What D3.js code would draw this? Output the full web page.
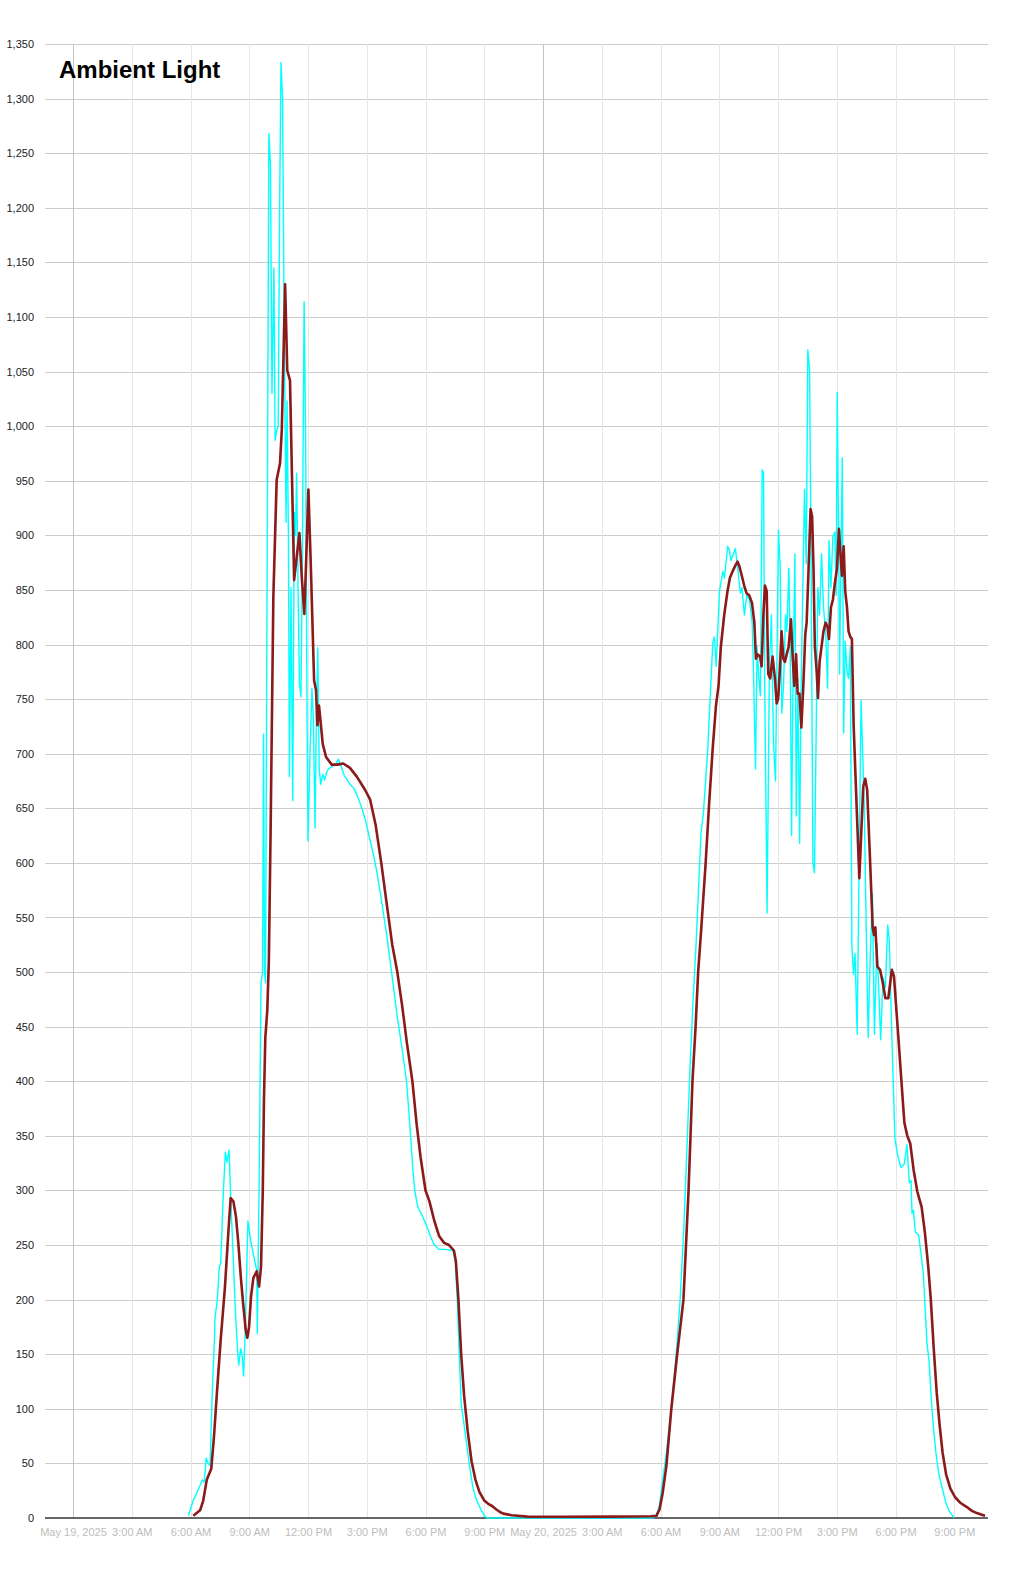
<!DOCTYPE html>
<html><head><meta charset="utf-8">
<script src="https://cdn.jsdelivr.net/npm/d3@7"></script>
<style>
body{margin:0;background:#fff}
svg{display:block}
text{font-family:Arial,"Liberation Sans",sans-serif}
</style>
</head><body>
<svg id="chart" width="1022" height="1585"></svg>
<script>
// ---------- DATA ----------
const chartTitle = "Ambient Light";
// hours after May 19, 2025 00:00
const domainHours = [-1.43, 46.72];
const yTickValues = [0,50,100,150,200,250,300,350,400,450,500,550,600,650,700,750,800,850,900,950,1000,1050,1100,1150,1200,1250,1300,1350];
const xTickHours = [0,3,6,9,12,15,18,21,24,27,30,33,36,39,42,45];
const xTickLabels = ["May 19, 2025","3:00 AM","6:00 AM","9:00 AM","12:00 PM","3:00 PM","6:00 PM","9:00 PM",
                     "May 20, 2025","3:00 AM","6:00 AM","9:00 AM","12:00 PM","3:00 PM","6:00 PM","9:00 PM"];

// raw sensor reading (cyan)
const rawTimes = [
 5.89,6.14,6.32,6.49,6.6,6.7,6.8,6.9,7.0,7.1,7.22,7.25,7.37,7.47,7.54,7.68,7.78,7.86,7.97,8.05,
 8.16,8.28,8.38,8.46,8.56,8.63,8.71,8.8,8.93,9.09,9.24,9.38,9.41,9.5,9.6,9.68,9.73,9.78,9.83,9.92,
 10.0,10.08,10.16,10.26,10.32,10.4,10.48,10.55,10.62,10.7,10.78,10.88,10.93,11.0,11.05,11.13,11.22,11.3,11.36,11.42,
 11.49,11.56,11.64,11.72,11.8,11.88,11.94,12.0,12.1,12.2,12.27,12.36,12.43,12.5,12.57,12.65,12.75,12.85,12.95,13.04,
 13.2,13.4,13.55,13.7,13.85,14.0,14.15,14.35,14.55,14.75,14.95,15.15,15.35,15.55,15.8,16.05,16.3,16.55,16.8,17.03,
 17.2,17.35,17.45,17.6,17.8,18.05,18.25,18.45,18.7,19.0,19.4,19.52,19.62,19.72,19.82,19.97,20.12,20.27,20.42,20.57,
 20.8,21.0,21.14,24.0,27.0,29.6,
 29.8,29.95,30.11,30.3,30.55,30.8,31.0,31.2,31.35,31.5,31.65,31.81,31.95,32.07,32.19,32.41,32.58,32.67,32.75,32.84,
 33.01,33.18,33.26,33.43,33.52,33.6,33.82,33.94,34.08,34.16,34.28,34.4,34.54,34.68,34.74,34.85,34.93,35.02,35.1,35.19,
 35.26,35.32,35.44,35.56,35.66,35.77,35.87,35.94,36.02,36.11,36.19,36.28,36.38,36.45,36.55,36.62,36.69,36.76,36.86,36.93,
 37.01,37.1,37.18,37.35,37.44,37.52,37.61,37.69,37.78,37.86,37.95,38.03,38.12,38.22,38.32,38.43,38.53,38.6,38.7,38.8,
 38.9,38.97,39.02,39.09,39.14,39.28,39.35,39.43,39.52,39.6,39.69,39.77,39.85,39.93,40.04,40.14,40.24,40.4,40.5,40.6,
 40.7,40.82,40.92,41.05,41.15,41.24,41.36,41.48,41.6,41.68,41.78,41.87,41.97,42.1,42.27,42.44,42.58,42.7,42.79,42.84,
 42.91,43.01,43.18,43.3,43.42,43.52,43.6,43.72,43.81,43.93,44.06,44.2,44.32,44.46,44.58,44.75,45.0
];
const rawValues = [
 2,16,23,30,35,33,55,50,48,110,163,183,200,230,233,300,335,326,337,294,
 248,194,160,140,155,150,130,175,272,252,239,227,169,300,490,500,718,500,490,900,
 1268,1240,1030,1145,987,996,1000,1200,1333,1300,1100,912,1023,900,679,852,657,921,900,957,
 854,765,752,900,1114,987,765,620,700,760,734,632,740,797,686,672,681,676,683,686,
 688,690,695,688,680,676,672,668,660,650,638,622,607,588,560,530,495,460,430,400,
 360,320,300,285,278,268,258,250,246,246,245,235,200,150,105,85,65,45,28,18,
 9,2,0,0,0,0,
 3,12,35,60,100,150,200,270,340,410,470,524,580,628,646,704,769,802,807,780,
 849,867,861,890,886,877,888,870,847,852,827,845,841,820,780,686,798,769,753,960,
 957,762,554,780,827,708,675,780,905,870,737,762,827,812,870,798,625,762,883,643,
 769,618,762,942,874,1070,1051,870,600,591,726,852,827,883,834,812,760,895,852,899,
 903,845,1031,906,773,971,719,803,776,769,798,524,498,517,443,600,749,653,543,440,
 509,572,443,526,480,438,495,486,543,529,462,405,347,333,321,324,342,307,309,279,
 282,262,259,242,223,189,161,142,113,84,60,41,32,22,13,6,0
];

// smoothed average (dark red)
const avgTimes = [
 6.14,6.49,6.65,6.83,7.06,7.2,7.35,7.54,7.76,7.93,8.05,8.19,8.32,8.44,8.58,8.7,8.82,8.9,8.99,9.09,
 9.21,9.38,9.5,9.6,9.69,9.75,9.82,9.92,10.0,10.09,10.23,10.4,10.57,10.66,10.83,10.94,11.08,11.29,11.42,11.56,
 11.68,11.81,11.9,12.02,12.14,12.31,12.41,12.48,12.56,12.65,12.75,12.92,13.21,13.5,13.8,14.14,14.49,14.91,15.17,15.45,
 15.74,16.0,16.3,16.56,16.8,17.05,17.33,17.55,17.75,18.0,18.2,18.45,18.7,18.95,19.2,19.45,19.55,19.68,19.82,19.97,
 20.15,20.35,20.55,20.75,21.0,21.2,21.4,21.6,21.8,21.97,22.4,22.72,23.2,25.0,27.5,29.5,
 29.79,29.95,30.1,30.3,30.55,30.85,31.17,31.3,31.43,31.63,31.79,31.92,32.08,32.18,32.3,32.48,32.66,32.83,32.96,33.08,
 33.25,33.42,33.54,33.68,33.81,33.93,34.02,34.15,34.27,34.39,34.53,34.67,34.79,34.87,34.96,35.08,35.16,35.25,35.33,35.42,
 35.5,35.6,35.72,35.84,35.93,36.01,36.1,36.18,36.27,36.35,36.44,36.54,36.66,36.75,36.83,36.92,37.0,37.09,37.19,37.29,
 37.39,37.46,37.56,37.66,37.74,37.81,37.88,37.97,38.04,38.12,38.22,38.32,38.43,38.53,38.6,38.7,38.8,38.9,39.01,39.11,
 39.18,39.26,39.35,39.43,39.52,39.6,39.69,39.77,39.86,39.95,40.15,40.35,40.45,40.55,40.69,40.83,40.9,40.97,41.07,41.21,
 41.35,41.48,41.63,41.81,41.92,42.14,42.3,42.45,42.6,42.75,42.92,43.11,43.33,43.5,43.67,43.8,43.95,44.1,44.25,44.4,
 44.58,44.8,45.04,45.3,45.64,45.9,46.15,46.4,46.57
];
const avgValues = [
 2,7,16,35,45,75,115,163,212,261,293,290,276,252,218,194,172,165,175,203,
 220,226,212,230,300,383,440,465,510,630,844,951,966,996,1130,1051,1042,859,880,902,
 862,828,874,942,874,767,758,726,744,728,709,697,690,690,691,687,679,667,658,635,
 600,565,525,500,470,435,400,360,330,300,290,272,258,252,250,245,235,200,150,112,
 80,52,35,24,16,13,11,8,5.5,4,2.5,2,1.3,1.2,1.3,1.6,
 2,8,22,48,100,150,200,250,300,400,450,500,540,567,599,654,704,744,762,798,
 827,849,861,867,872,876,872,863,854,847,845,838,820,787,791,789,780,827,854,849,
 773,769,789,769,746,751,780,812,787,784,791,798,823,787,762,791,755,755,724,762,
 809,820,870,924,917,870,798,776,751,784,798,812,820,816,805,834,841,856,870,906,
 885,863,890,849,834,812,807,805,726,682,586,670,677,667,606,541,534,541,505,502,
 490,476,476,502,496,441,400,362,350,343,319,299,285,261,230,200,155,115,85,60,
 40,27,19,14,10,6.5,4.5,3,2
];

// ---------- CHART ----------
const baseDate = new Date(2025, 4, 19, 0, 0, 0);
const toDate = h => new Date(baseDate.getTime() + h * 3600000);

const W = 1022, H = 1585;
const plot = {left: 45, right: 988, top: 44, bottom: 1518};
const svg = d3.select("#chart");
svg.append("rect").attr("width", W).attr("height", H).attr("fill", "#fff");

const x = d3.scaleTime().domain(domainHours.map(toDate)).range([plot.left, plot.right]);
const y = d3.scaleLinear().domain([0, 1350]).range([plot.bottom, plot.top]);

// horizontal gridlines
svg.append("g").selectAll("line").data(yTickValues.filter(v => v !== 0)).join("line")
  .attr("x1", plot.left).attr("x2", plot.right)
  .attr("y1", d => Math.round(y(d)) + 0.5).attr("y2", d => Math.round(y(d)) + 0.5)
  .attr("stroke", "#cccccc").attr("stroke-width", 1);

// vertical gridlines
svg.append("g").selectAll("line").data(xTickHours).join("line")
  .attr("x1", d => Math.round(x(toDate(d))) + 0.5).attr("x2", d => Math.round(x(toDate(d))) + 0.5)
  .attr("y1", plot.top).attr("y2", plot.bottom)
  .attr("stroke", d => d % 24 === 0 ? "#c4c4c4" : "#e6e6e6").attr("stroke-width", 1);

// y axis labels
const yAxis = d3.axisLeft(y).tickValues(yTickValues).tickFormat(d3.format(",")).tickSize(0).tickPadding(11);
const gy = svg.append("g").attr("transform", `translate(${plot.left},0)`).call(yAxis);
gy.select(".domain").remove();
gy.selectAll("text").attr("fill", "#222").style("font-size", "11px").style("font-family", "Arial, 'Liberation Sans', sans-serif");

// x axis labels
const xAxis = d3.axisBottom(x).tickValues(xTickHours.map(toDate))
  .tickFormat((d, i) => xTickLabels[i]).tickSize(0).tickPadding(10);
const gx = svg.append("g").attr("transform", `translate(0,${plot.bottom})`).call(xAxis);
gx.select(".domain").remove();
gx.selectAll("text").attr("fill", "#bdbdbd").style("font-size", "11px").style("font-family", "Arial, 'Liberation Sans', sans-serif");

// baseline
svg.append("line").attr("x1", plot.left).attr("x2", plot.right)
  .attr("y1", y(0)).attr("y2", y(0)).attr("stroke", "#333").attr("stroke-width", 1.3);

// series
const rawData = rawTimes.map((t, i) => ({t: toDate(t), v: rawValues[i]}));
const avgData = avgTimes.map((t, i) => ({t: toDate(t), v: avgValues[i]}));
const line = d3.line().x(d => x(d.t)).y(d => y(d.v));

svg.append("path").datum(rawData).attr("d", line)
  .attr("fill", "none").attr("stroke", "#00ffff").attr("stroke-width", 1.4).attr("stroke-linejoin", "round");
svg.append("path").datum(avgData).attr("d", line)
  .attr("fill", "none").attr("stroke", "#8b1a1a").attr("stroke-width", 2.6).attr("stroke-linejoin", "round");

// title
svg.append("text").attr("x", 59).attr("y", 78).text(chartTitle)
  .attr("fill", "#000").style("font-size", "24px").style("font-weight", "bold");
</script>
</body></html>
